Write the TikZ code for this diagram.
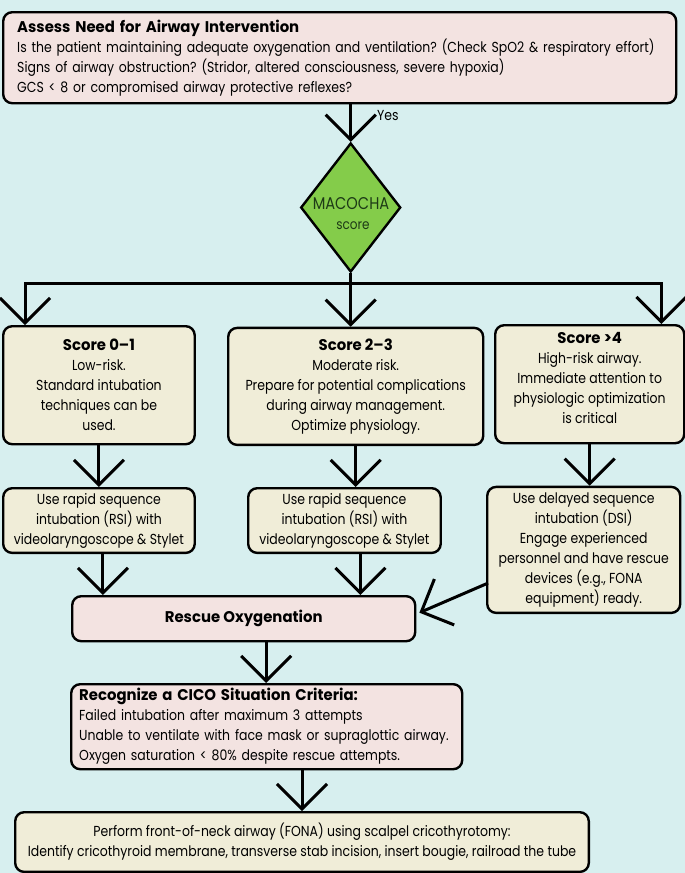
\documentclass[tikz,border=0pt]{standalone}
\usepackage{fontspec}
\setmainfont{Poppins}[FakeStretch=0.86]
\newfontfamily\titlef{Poppins}[FakeStretch=0.96]
\usetikzlibrary{arrows.meta,shapes.geometric,calc}
\definecolor{bgc}{HTML}{D7EFEF}
\definecolor{pinkc}{HTML}{F3E3E1}
\definecolor{creamc}{HTML}{F0EDD8}
\definecolor{greenc}{HTML}{84CC4A}
\definecolor{dgreen}{HTML}{1D3A16}
\newcommand{\bodyfnt}{\fontsize{14.5}{20}\selectfont\frenchspacing}
\newcommand{\ttl}[1]{{\titlef\bfseries\fontsize{15.5}{20}\selectfont #1}}
\begin{document}
\begin{tikzpicture}[x=1pt,y=-1pt,
  box/.style={draw=black, line width=2.4pt, rounded corners=9pt, inner ysep=0pt, inner xsep=2pt, anchor=north west, align=center, font=\bodyfnt},
  conn/.style={line width=3pt, -{Straight Barb[length=25pt,width=50pt]}},
  plain/.style={line width=3pt}]
\fill[bgc] (0,0) rectangle (685,873);
\useasboundingbox (0,0) rectangle (685,873);

\node[box, fill=pinkc, text width=645pt, inner xsep=14pt, minimum height=91pt, align=left] (top) at (2,11)
 {\ttl{Assess Need for Airway Intervention}\\
  Is the patient maintaining adequate oxygenation and ventilation? (Check SpO2 \& respiratory effort)\\
  Signs of airway obstruction? (Stridor, altered consciousness, severe hypoxia)\\
  GCS < 8 or compromised airway protective reflexes?};

\node[diamond, draw=black, line width=2.4pt, fill=greenc, minimum width=100pt, minimum height=129pt, inner sep=0pt] (d) at (350.7,207.5) {};
\node[text=dgreen, font=\fontsize{17}{19}\selectfont, inner sep=0pt] (dt1) at (351,204) {MACOCHA};
\node[text=dgreen, font=\fontsize{14}{16}\selectfont, inner sep=0pt] (dt2) at (353,226) {score};
\node[anchor=west, font=\fontsize{14.5}{16}\selectfont, inner sep=0pt] (yes) at (377,116) {Yes};

\node[box, fill=creamc, minimum width=191.5pt, minimum height=118pt] (s1) at (2,325)
 {\ttl{Score 0–1}\\Low-risk.\\Standard intubation\\techniques can be\\used.};
\node[box, fill=creamc, minimum width=255pt, minimum height=117pt] (s2) at (227,326.7)
 {\ttl{Score 2–3}\\Moderate risk.\\Prepare for potential complications\\during airway management.\\Optimize physiology.};
\node[box, fill=creamc, minimum width=189pt, minimum height=118pt] (s3) at (494,324)
 {\ttl{Score >4}\\High-risk airway.\\Immediate attention to\\physiologic optimization\\is critical\\[-8pt]};

\node[box, fill=creamc, minimum width=191.5pt, minimum height=64.7pt] (r1) at (2,487)
 {Use rapid sequence\\intubation (RSI) with\\videolaryngoscope \& Stylet};
\node[box, fill=creamc, minimum width=192.5pt, minimum height=64.7pt] (r2) at (247,487)
 {Use rapid sequence\\intubation (RSI) with\\videolaryngoscope \& Stylet};
\node[box, fill=creamc, minimum width=193pt, minimum height=126pt] (dsi) at (486,485.7)
 {Use delayed sequence\\intubation (DSI)\\Engage experienced\\personnel and have rescue\\devices (e.g., FONA\\equipment) ready.};

\node[box, fill=pinkc, minimum width=343pt, minimum height=45pt] (rescue) at (71,595)
 {\ttl{Rescue Oxygenation}};

\node[box, fill=pinkc, text width=375pt, inner xsep=8pt, minimum height=85pt, align=left] (cico) at (70,683)
 {\ttl{Recognize a CICO Situation Criteria:}\\
  Failed intubation after maximum 3 attempts\\
  Unable to ventilate with face mask or supraglottic airway.\\
  Oxygen saturation < 80\% despite rescue attempts.};

\node[box, fill=creamc, minimum width=573.6pt, minimum height=59.7pt] (fona) at (14,811)
 {Perform front-of-neck airway (FONA) using scalpel cricothyrotomy:\\
  Identify cricothyroid membrane, transverse stab incision, insert bougie, railroad the tube};

% connectors
\draw[conn] (d.north |- top.south) -- (d.north);
\coordinate (j) at (350.7,283.3);
\draw[plain] (d.south) -- (j);
\coordinate (t1) at ($(s1.north west)+(23,0)$);
\coordinate (t3) at ($(s3.north east)+(-24,0)$);
\draw[conn] (j) -| (t1);
\draw[conn] (j) -- (j |- s2.north);
\draw[conn] (j) -| (t3);

\draw[conn] (s1.south) -- (s1.south |- r1.north);
\draw[conn] (s2.south) -- (s2.south |- r2.north);
\draw[conn] (s3.south) -- (s3.south |- dsi.north);

\coordinate (a4) at ($(r1.south)+(4,0)$);
\draw[conn] (a4) -- (a4 |- rescue.north);
\coordinate (a5) at ($(r2.south)+(16,0)$);
\draw[conn] (a5) -- (a5 |- rescue.north);
\coordinate (a6) at ($(dsi.south west)+(2,-31)$);
\coordinate (a6e) at ($(rescue.east)+(3,-6)$);
\draw[conn] (a6) -- (a6e);

\coordinate (a7) at ($(rescue.south)+(22.5,0)$);
\draw[conn] (a7) -- (a7 |- cico.north);
\draw[conn] (fona.north |- cico.south) -- (fona.north);
\end{tikzpicture}
\end{document}
